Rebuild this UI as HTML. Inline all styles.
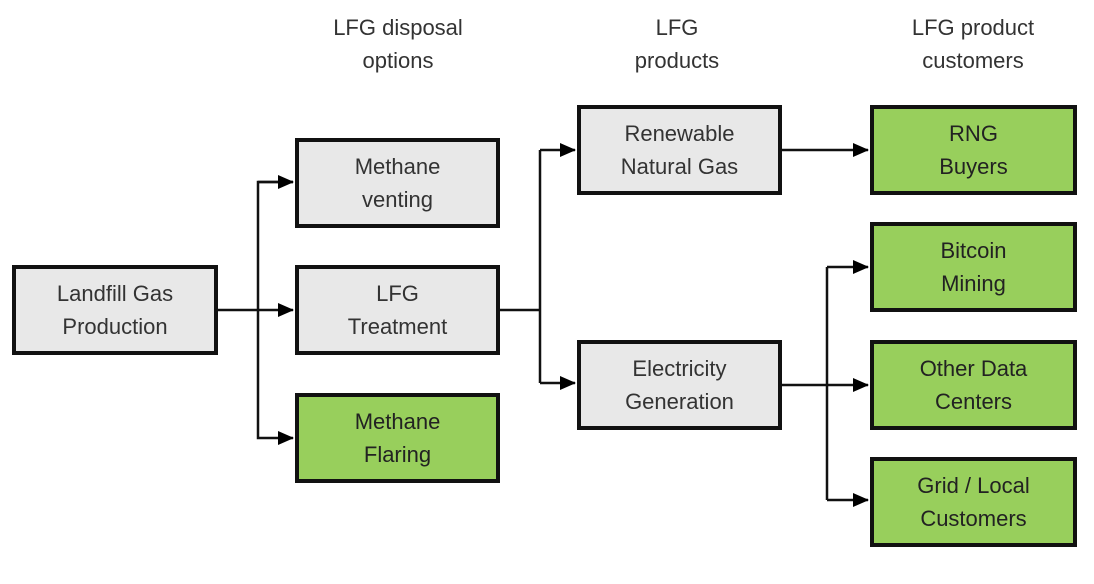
<!DOCTYPE html>
<html><head><style>
body{margin:0;width:1094px;height:584px;background:#fff;position:relative;overflow:hidden;font-family:"Liberation Sans",sans-serif;}
.b{position:absolute;box-sizing:border-box;border:4px solid #111;display:flex;align-items:center;justify-content:center;text-align:center;font-size:22px;line-height:33px;color:#333;}
.g{background:#e8e8e8}.n{background:#98cf5c;color:#222}
.h{position:absolute;text-align:center;font-size:22px;line-height:33px;color:#333;width:240px}
svg{position:absolute;left:0;top:0}
</style></head><body>
<div class="h" style="left:278px;top:11px">LFG disposal<br>options</div>
<div class="h" style="left:557px;top:11px">LFG<br>products</div>
<div class="h" style="left:853px;top:11px">LFG product<br>customers</div>
<svg width="1094" height="584">
<defs><marker id="a" markerWidth="16" markerHeight="16" refX="15" refY="7" orient="auto" markerUnits="userSpaceOnUse"><path d="M0,0 L16,7 L0,14z" fill="#000"/></marker></defs>
<g stroke="#111" stroke-width="2.5" fill="none">
<path d="M218,310 H293" marker-end="url(#a)"/>
<path d="M293,182 H258 V438 H293" marker-end="url(#a)"/>
<path d="M258,182 H293" marker-end="url(#a)"/>
<path d="M500,310 H540"/>
<path d="M540,150 V383"/>
<path d="M540,150 H575" marker-end="url(#a)"/>
<path d="M540,383 H575" marker-end="url(#a)"/>
<path d="M782,150 H868" marker-end="url(#a)"/>
<path d="M782,385 H868" marker-end="url(#a)"/>
<path d="M827,267 V500"/>
<path d="M827,267 H868" marker-end="url(#a)"/>
<path d="M827,500 H868" marker-end="url(#a)"/>
</g></svg>
<div class="b g" style="left:12px;top:265px;width:206px;height:90px">Landfill Gas<br>Production</div>
<div class="b g" style="left:295px;top:138px;width:205px;height:90px">Methane<br>venting</div>
<div class="b g" style="left:295px;top:265px;width:205px;height:90px">LFG<br>Treatment</div>
<div class="b n" style="left:295px;top:393px;width:205px;height:90px">Methane<br>Flaring</div>
<div class="b g" style="left:577px;top:105px;width:205px;height:90px">Renewable<br>Natural Gas</div>
<div class="b g" style="left:577px;top:340px;width:205px;height:90px">Electricity<br>Generation</div>
<div class="b n" style="left:870px;top:105px;width:207px;height:90px">RNG<br>Buyers</div>
<div class="b n" style="left:870px;top:222px;width:207px;height:90px">Bitcoin<br>Mining</div>
<div class="b n" style="left:870px;top:340px;width:207px;height:90px">Other Data<br>Centers</div>
<div class="b n" style="left:870px;top:457px;width:207px;height:90px">Grid / Local<br>Customers</div>
</body></html>
